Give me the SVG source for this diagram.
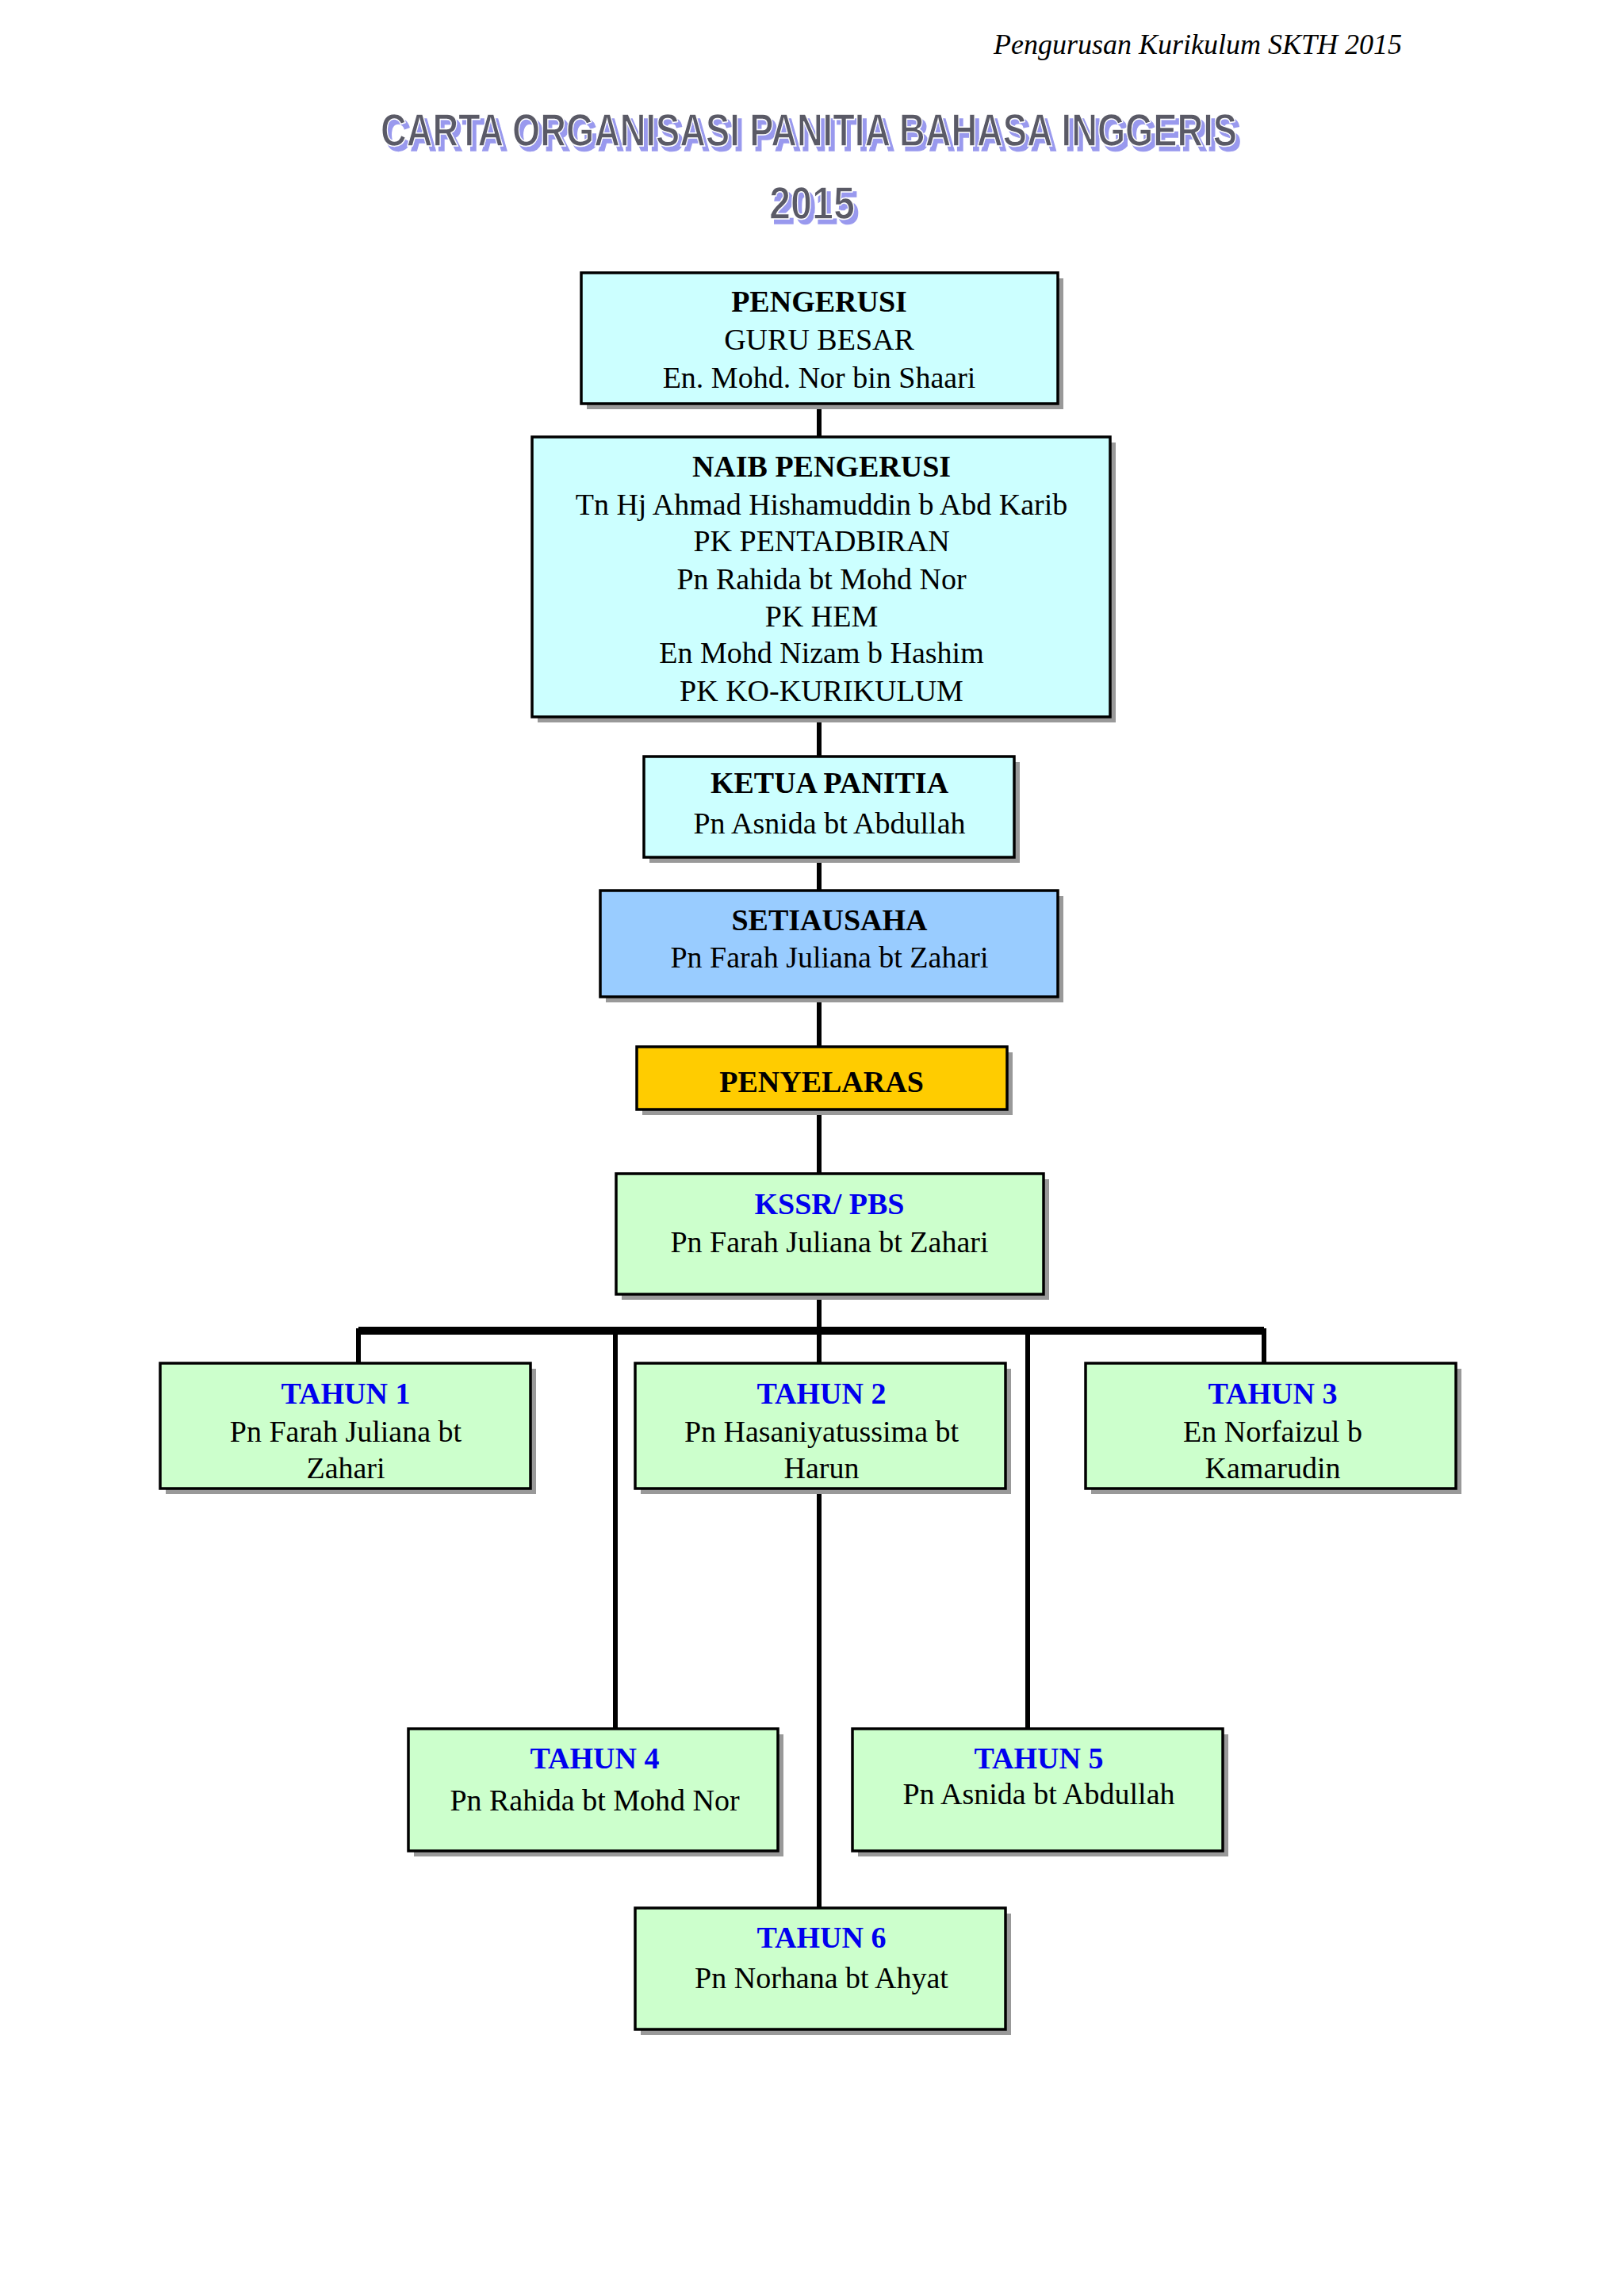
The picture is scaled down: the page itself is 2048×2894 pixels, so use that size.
<svg xmlns="http://www.w3.org/2000/svg" width="2048" height="2894" viewBox="0 0 2048 2894">
<defs>
<filter id="ds" x="-5%" y="-20%" width="110%" height="150%">
<feFlood flood-color="#9999ee"/><feComposite in2="SourceAlpha" operator="in"/><feOffset dx="5" dy="6" result="s"/>
<feMerge><feMergeNode in="s"/><feMergeNode in="SourceGraphic"/></feMerge>
</filter>
</defs>
<style>
.sh{fill:#999999}
.b{stroke:#000;stroke-width:3.5}
.t{font-family:"Liberation Serif",serif;font-size:38px;text-anchor:middle;fill:#000}
.h{font-weight:bold}
.bl{font-weight:bold;fill:#0000ee}
.ln{stroke:#000;stroke-width:6;fill:none}
.tt{font-family:"Liberation Sans",Arial,sans-serif;font-weight:bold;font-size:58px;text-anchor:middle;fill:#5a5a66;stroke:#fff;stroke-width:1.5;filter:url(#ds)}
</style>
<rect width="2048" height="2894" fill="#fff"/>
<text x="1768" y="68" font-family="Liberation Serif,serif" font-style="italic" font-size="36" text-anchor="end">Pengurusan Kurikulum SKTH 2015</text>
<g id="title">
<text class="tt" x="1020" y="184" textLength="1080" lengthAdjust="spacingAndGlyphs">CARTA ORGANISASI  PANITIA BAHASA INGGERIS</text>
<text class="tt" x="1024" y="276" textLength="108" lengthAdjust="spacingAndGlyphs">2015</text>
</g>
<g id="connectors">
<path class="ln" d="M1033 509V551M1033 904V954M1033 1081V1123M1033 1257V1320M1033 1399V1480M1033 1632V1678M452 1719V1678H1594V1719M776 1678V2180M1296 1678V2180M1033 1678V1719M1033 1877V2406"/>
<path d="M452 1678H1594" stroke="#000" stroke-width="10"/>
</g>
<g id="pengerusi"><rect class="sh" x="740" y="351" width="601" height="165"/><rect class="b" x="733" y="344" width="601" height="165" fill="#ccffff"/>
<text class="t h" x="1033" y="393">PENGERUSI</text><text class="t" x="1033" y="441">GURU BESAR</text><text class="t" x="1033" y="489">En.  Mohd. Nor bin Shaari</text></g>
<g id="naib"><rect class="sh" x="678" y="558" width="729" height="353"/><rect class="b" x="671" y="551" width="729" height="353" fill="#ccffff"/>
<text class="t h" x="1036" y="601">NAIB  PENGERUSI</text><text class="t" x="1036" y="649">Tn Hj Ahmad  Hishamuddin  b Abd Karib</text><text class="t" x="1036" y="695">PK PENTADBIRAN</text><text class="t" x="1036" y="743">Pn Rahida  bt Mohd Nor</text><text class="t" x="1036" y="790">PK HEM</text><text class="t" x="1036" y="836">En Mohd Nizam  b Hashim</text><text class="t" x="1036" y="884">PK KO-KURIKULUM</text></g>
<g id="ketua"><rect class="sh" x="819" y="961" width="467" height="127"/><rect class="b" x="812" y="954" width="467" height="127" fill="#ccffff"/>
<text class="t h" x="1046" y="1000">KETUA  PANITIA</text><text class="t" x="1046" y="1051">Pn Asnida  bt Abdullah</text></g>
<g id="setiausaha"><rect class="sh" x="764" y="1130" width="577" height="134"/><rect class="b" x="757" y="1123" width="577" height="134" fill="#99ccff"/>
<text class="t h" x="1046" y="1173">SETIAUSAHA</text><text class="t" x="1046" y="1220">Pn Farah Juliana  bt Zahari</text></g>
<g id="penyelaras"><rect class="sh" x="810" y="1327" width="467" height="79"/><rect class="b" x="803" y="1320" width="467" height="79" fill="#ffcc00"/>
<text class="t h" x="1036" y="1377" font-size="48">PENYELARAS</text></g>
<g id="kssr"><rect class="sh" x="784" y="1487" width="539" height="152"/><rect class="b" x="777" y="1480" width="539" height="152" fill="#ccffcc"/>
<text class="t bl" x="1046" y="1531">KSSR/ PBS</text><text class="t" x="1046" y="1579">Pn Farah Juliana  bt Zahari</text></g>
<g id="tahun1"><rect class="sh" x="209" y="1726" width="467" height="158"/><rect class="b" x="202" y="1719" width="467" height="158" fill="#ccffcc"/>
<text class="t bl" x="436" y="1770">TAHUN  1</text><text class="t" x="436" y="1818">Pn Farah Juliana  bt</text><text class="t" x="436" y="1864">Zahari</text></g>
<g id="tahun2"><rect class="sh" x="808" y="1726" width="467" height="158"/><rect class="b" x="801" y="1719" width="467" height="158" fill="#ccffcc"/>
<text class="t bl" x="1036" y="1770">TAHUN  2</text><text class="t" x="1036" y="1818">Pn Hasaniyatussima  bt</text><text class="t" x="1036" y="1864">Harun</text></g>
<g id="tahun3"><rect class="sh" x="1376" y="1726" width="467" height="158"/><rect class="b" x="1369" y="1719" width="467" height="158" fill="#ccffcc"/>
<text class="t bl" x="1605" y="1770">TAHUN  3</text><text class="t" x="1605" y="1818">En Norfaizul  b</text><text class="t" x="1605" y="1864">Kamarudin</text></g>
<g id="tahun4"><rect class="sh" x="522" y="2187" width="466" height="154"/><rect class="b" x="515" y="2180" width="466" height="154" fill="#ccffcc"/>
<text class="t bl" x="750" y="2230">TAHUN  4</text><text class="t" x="750" y="2283">Pn Rahida  bt Mohd Nor</text></g>
<g id="tahun5"><rect class="sh" x="1082" y="2187" width="467" height="154"/><rect class="b" x="1075" y="2180" width="467" height="154" fill="#ccffcc"/>
<text class="t bl" x="1310" y="2230">TAHUN  5</text><text class="t" x="1310" y="2275">Pn Asnida  bt Abdullah</text></g>
<g id="tahun6"><rect class="sh" x="808" y="2413" width="467" height="153"/><rect class="b" x="801" y="2406" width="467" height="153" fill="#ccffcc"/>
<text class="t bl" x="1036" y="2456">TAHUN  6</text><text class="t" x="1036" y="2507">Pn Norhana  bt Ahyat</text></g>
</svg>
